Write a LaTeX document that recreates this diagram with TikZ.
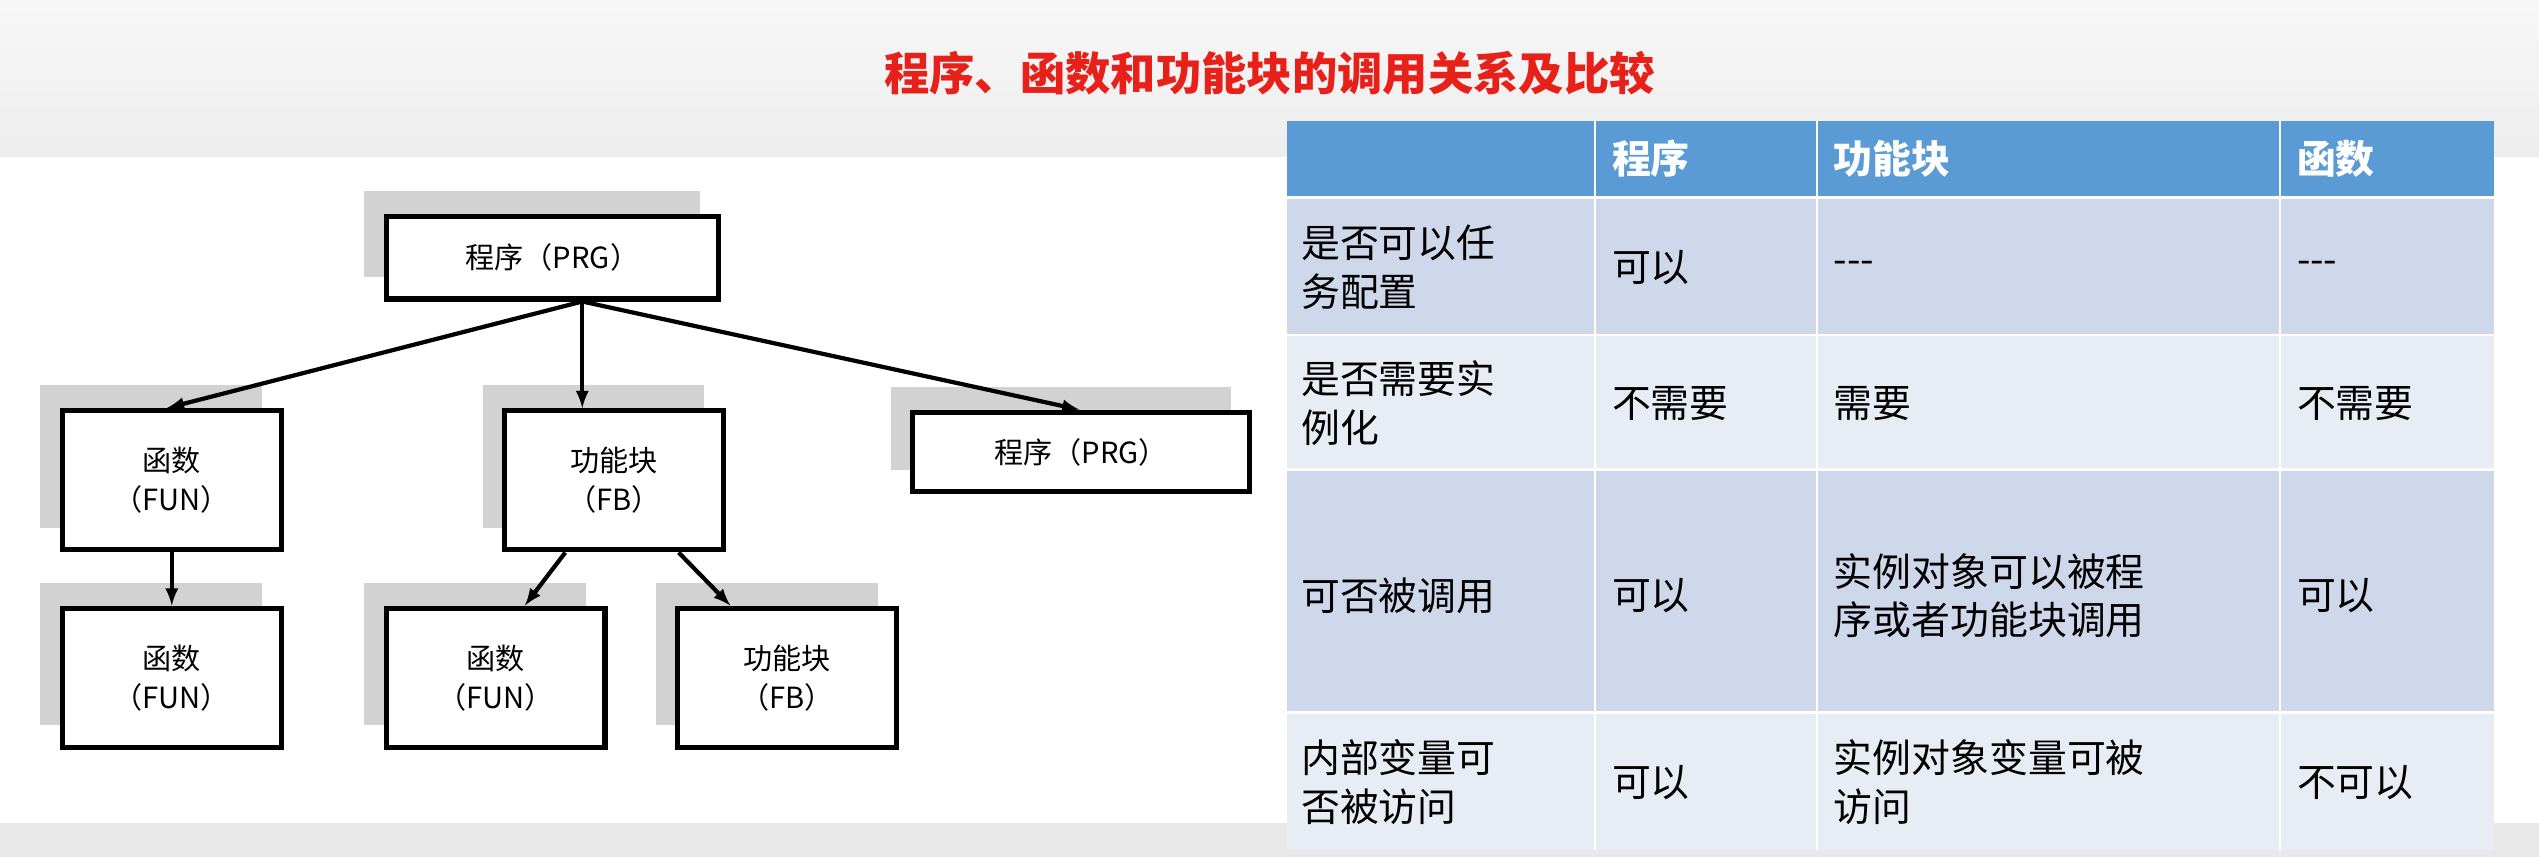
\documentclass[tikz,border=0pt]{standalone}
\usepackage{fontspec}
\setmainfont{Noto Sans CJK SC}
\usetikzlibrary{positioning}
\definecolor{hdblue}{HTML}{5B9BD5}
\definecolor{rowdark}{HTML}{CFD8EA}
\definecolor{rowlight}{HTML}{E8ECF5}
\definecolor{titlered}{HTML}{E8201A}
\tikzset{
  callbox/.style={draw=black, line width=3.2pt, fill=white, align=center, font=\fontsize{18}{24}\selectfont},
  shadowbox/.style={fill=gray!35},
  callarrow/.style={-latex, line width=2.6pt},
  cell/.style={anchor=west, align=left, font=\fontsize{24}{30}\selectfont},
  headcell/.style={anchor=west, text=white, font=\bfseries\fontsize{24}{30}\selectfont}
}
\begin{document}
\begin{tikzpicture}[x=1pt, y=-1pt]
  \useasboundingbox (0,0) rectangle (1568,529);
  % background
  \shade[top color=gray!6, bottom color=gray!14] (0,0) rectangle (1568,97);
  \fill[white] (0,97) rectangle (1568,508);
  \fill[gray!18] (0,508) rectangle (1568,529);
  \node[text=titlered, font=\bfseries\fontsize{28}{32}\selectfont] (title) at (784,45) {程序、函数和功能块的调用关系及比较};

  % tree
  \newcommand{\callnode}[6]{% name, x1, y1, x2, y2, text
    \fill[shadowbox] (#2-12,#3-14) rectangle (#4-10,#5-12);
    \node[callbox, minimum width=#4-#2, minimum height=#5-#3, anchor=north west, inner sep=0pt] (#1) at (#2,#3) {#6};
  }
  \callnode{prg}{237}{132}{442}{183}{程序（PRG）}
  \callnode{funa}{37}{252}{172}{338}{函数\\（FUN）}
  \callnode{fba}{310}{252}{445}{338}{功能块\\（FB）}
  \callnode{prgb}{562}{253}{770}{302}{程序（PRG）}
  \callnode{funb}{37}{374}{172}{460}{函数\\（FUN）}
  \callnode{func}{237}{374}{372}{460}{函数\\（FUN）}
  \callnode{fbb}{417}{374}{552}{460}{功能块\\（FB）}

  \coordinate (prgout) at ([xshift=18.5pt]prg.south);
  \draw[callarrow] (prgout) -- ([xshift=-3pt]funa.north);
  \draw[callarrow] (prgout) -- ([xshift=-19.5pt]fba.north);
  \draw[callarrow] (prgout) -- ([xshift=-1pt]prgb.north);
  \draw[callarrow] (funa.south) -- (funb.north);
  \draw[callarrow] ([xshift=-30pt]fba.south) -- ([xshift=18pt]func.north);
  \draw[callarrow] ([xshift=40pt]fba.south) -- ([xshift=-35pt]fbb.north);

  % table
  \fill[hdblue] (795,75) rectangle (1540,122);
  \fill[rowdark] (795,122) rectangle (1540,207);
  \fill[rowlight] (795,207) rectangle (1540,290);
  \fill[rowdark] (795,290) rectangle (1540,440);
  \fill[rowlight] (795,440) rectangle (1540,525);
  \foreach \yy in {122,207,290,440} {
    \draw[white, line width=1.5pt] (795,\yy) -- (1540,\yy);
  }
  \foreach \xx in {985,1122,1408} {
    \draw[white, line width=1.5pt] (\xx,75) -- (\xx,525);
  }
  \node[headcell] (hprg) at (992,98) {程序};
  \node[headcell] (hfb) at (1129,98) {功能块};
  \node[headcell] (hfun) at (1415,98) {函数};

  \node[cell] (qa) at (800,165) {是否可以任\\务配置};
  \node[cell] (qaprg) at (992,165) {可以};
  \node[cell] (qafb) at (1129,165) {{-}{-}{-}};
  \node[cell] (qafun) at (1415,165) {{-}{-}{-}};

  \node[cell] (qb) at (800,249) {是否需要实\\例化};
  \node[cell] (qbprg) at (992,249) {不需要};
  \node[cell] (qbfb) at (1129,249) {需要};
  \node[cell] (qbfun) at (1415,249) {不需要};

  \node[cell] (qc) at (800,368) {可否被调用};
  \node[cell] (qcprg) at (992,368) {可以};
  \node[cell] (qcfb) at (1129,368) {实例对象可以被程\\序或者功能块调用};
  \node[cell] (qcfun) at (1415,368) {可以};

  \node[cell] (qd) at (800,483) {内部变量可\\否被访问};
  \node[cell] (qdprg) at (992,483) {可以};
  \node[cell] (qdfb) at (1129,483) {实例对象变量可被\\访问};
  \node[cell] (qdfun) at (1415,483) {不可以};
\end{tikzpicture}
\end{document}
